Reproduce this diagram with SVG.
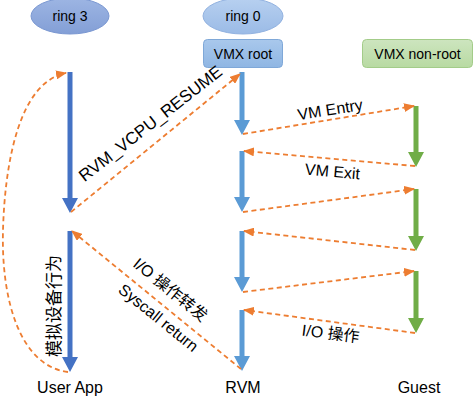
<svg xmlns="http://www.w3.org/2000/svg" width="474" height="405" viewBox="0 0 474 405">
<defs>
<linearGradient id="g3" x1="0" y1="0" x2="0" y2="1"><stop offset="0" stop-color="#9db5e3"/><stop offset="1" stop-color="#839fd6"/></linearGradient>
<linearGradient id="g0" x1="0" y1="0" x2="0" y2="1"><stop offset="0" stop-color="#b7d0f0"/><stop offset="1" stop-color="#9bbbe6"/></linearGradient>
<linearGradient id="gr" x1="0" y1="0" x2="0" y2="1"><stop offset="0" stop-color="#a9c8ec"/><stop offset="1" stop-color="#8fb6e3"/></linearGradient>
<linearGradient id="gn" x1="0" y1="0" x2="0" y2="1"><stop offset="0" stop-color="#cde5bf"/><stop offset="1" stop-color="#b8daa2"/></linearGradient>
<marker id="ah" markerUnits="userSpaceOnUse" markerWidth="11" markerHeight="9" refX="10" refY="4.5" orient="auto"><path d="M0,0 L11,4.5 L0,9 z" fill="#ed7d31"/></marker>
</defs>
<style>
text{font-family:"Liberation Sans",Arial,"Noto Sans CJK SC",sans-serif;fill:#000}
.t14{font-size:14px}
.t16{font-size:16px}
.d{fill:none;stroke:#ed7d31;stroke-width:1.8;stroke-dasharray:5,3.5;marker-end:url(#ah)}
.ua{fill:#4472c4}
.rv{fill:#5b9bd5}
.gu{fill:#70ad47}
</style>
<g id="ring3"><ellipse cx="70" cy="16" rx="39" ry="18" fill="url(#g3)" stroke="#7b98d2" stroke-width="1"/><text class="t14" x="70" y="21" text-anchor="middle">ring 3</text></g>
<g id="ring0"><ellipse cx="243" cy="16" rx="40" ry="18" fill="url(#g0)" stroke="#92b2e0" stroke-width="1"/><text class="t14" x="243" y="21" text-anchor="middle">ring 0</text></g>
<g id="vmxroot"><rect x="203.5" y="39.5" width="79" height="28" rx="4" fill="url(#gr)" stroke="#7fa8d8"/><text class="t14" x="243" y="58.5" text-anchor="middle">VMX root</text></g>
<g id="vmxnonroot"><rect x="362.5" y="39.5" width="110" height="28" rx="4" fill="url(#gn)" stroke="#a3cc89"/><text class="t14" x="417.5" y="58.5" text-anchor="middle">VMX non-root</text></g>
<g id="userapp">
<path class="ua" d="M67.5,72 H72.5 V198 H78 L70,213 L62,198 H67.5 Z"/>
<path class="ua" d="M67.5,231 H72.5 V357 H78 L70,372 L62,357 H67.5 Z"/>
<text class="t16" x="70" y="393" text-anchor="middle">User App</text>
</g>
<g id="rvm">
<path class="rv" d="M239.5,72 H244.5 V120 H250 L242,135 L234,120 H239.5 Z"/>
<path class="rv" d="M239.5,151 H244.5 V197 H250 L242,212 L234,197 H239.5 Z"/>
<path class="rv" d="M239.5,231 H244.5 V277 H250 L242,292 L234,277 H239.5 Z"/>
<path class="rv" d="M239.5,310 H244.5 V356 H250 L242,371 L234,356 H239.5 Z"/>
<text class="t16" x="243" y="393" text-anchor="middle">RVM</text>
</g>
<g id="guest">
<path class="gu" d="M413.5,106 H418.5 V152 H424 L416,167 L408,152 H413.5 Z"/>
<path class="gu" d="M413.5,189 H418.5 V236 H424 L416,251 L408,236 H413.5 Z"/>
<path class="gu" d="M413.5,271 H418.5 V318 H424 L416,333 L408,318 H413.5 Z"/>
<text class="t16" x="419" y="393" text-anchor="middle">Guest</text>
</g>
<g id="connectors">
<path class="d" d="M68,372 C20,366 1,300 3,230 C5,160 20,82 66,73"/>
<path class="d" d="M71,212 L240,74"/>
<path class="d" d="M243,134 L414,106"/>
<path class="d" d="M415,166 L244,151"/>
<path class="d" d="M243,212 L414,189"/>
<path class="d" d="M415,250 L244,231"/>
<path class="d" d="M243,292 L414,271"/>
<path class="d" d="M415,333 L244,310"/>
<path class="d" d="M241,369 L72,231"/>
</g>
<g id="labels">
<text class="t16" font-size="17" style="font-size:17px" x="0" y="0" text-anchor="middle" transform="translate(154,128) rotate(-38)">RVM_VCPU_RESUME</text>
<text class="t16" x="0" y="0" text-anchor="middle" transform="translate(331,115) rotate(-9)">VM Entry</text>
<text class="t16" x="0" y="0" text-anchor="middle" transform="translate(332,177) rotate(5)">VM Exit</text>
<text class="t16" x="0" y="0" text-anchor="middle" transform="translate(330,339) rotate(7)">I/O 操作</text>
<text class="t16" x="0" y="0" text-anchor="middle" transform="translate(167,294) rotate(39)">I/O 操作转发</text>
<text class="t16" x="0" y="0" text-anchor="middle" transform="translate(155,322) rotate(39)">Syscall return</text>
<text class="t16" style="font-size:17px" x="0" y="0" text-anchor="middle" transform="translate(60,306) rotate(-90)">模拟设备行为</text>
</g>
</svg>
